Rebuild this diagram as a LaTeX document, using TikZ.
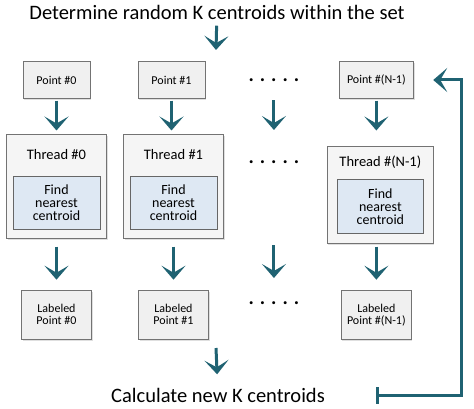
\documentclass[tikz,border=0pt]{standalone}
\usepackage{fontspec}
\setmainfont{Carlito}
\usepackage{tikz}
\usetikzlibrary{arrows.meta,positioning,calc,shadows}
\definecolor{flowteal}{RGB}{31,98,114}
\definecolor{findblue}{RGB}{222,232,243}
\tikzset{
  pointbox/.style={
    draw=black!55,
    line width=1pt,
    fill=black!6,
    drop shadow={opacity=0.25,shadow xshift=1pt,shadow yshift=-1.5pt},
    align=center,
    minimum height=36pt,
    minimum width=67pt,
    inner xsep=8pt,
    font=\fontsize{12}{12}\selectfont
  },
  labelbox/.style={
    pointbox,
    minimum height=49pt,
    minimum width=70pt,
    inner xsep=4pt,
    font=\fontsize{12}{12}\selectfont
  },
  threadbox/.style={
    draw=black!55,
    line width=1.2pt,
    fill=black!4,
    drop shadow={opacity=0.25,shadow xshift=1pt,shadow yshift=-1.5pt},
    minimum width=100pt,
    minimum height=104pt
  },
  threadname/.style={font=\fontsize{14.5}{15}\selectfont, inner sep=0pt},
  findbox/.style={
    draw=black!60,
    line width=1pt,
    fill=findblue,
    align=center,
    minimum width=87pt,
    minimum height=53pt,
    inner sep=2pt,
    font=\fontsize{14}{13}\selectfont
  },
  dotrow/.style={inner sep=0pt, font=\fontsize{20}{20}\selectfont\bfseries},
  headline/.style={font=\fontsize{20.5}{22}\selectfont},
  flow/.style={-{Stealth[length=14pt,width=24pt,inset=7pt]}, line width=3pt, draw=flowteal},
  loopline/.style={{Bar[width=17pt]}-{Stealth[length=14pt,width=24pt,inset=7pt]}, line width=3pt, draw=flowteal}
}

\begin{document}
\begin{tikzpicture}[x=1pt, y=1pt]
\useasboundingbox (0,0) rectangle (474,408);
\node[headline] (title) at (217,396) {Determine random K centroids within the set};
\coordinate (topend) at (216,358);

% points
\node[pointbox] (p0) at (56.5,328) {Point \#0};
\node[pointbox, right=47pt of p0] (p1) {Point \#1};
\node[pointbox, right=133pt of p1] (pN) {Point \#(N-1)};
\node[dotrow] (pd) at ($(p1)!0.5!(pN)$) {. . . . .};

% threads
\node[threadbox, below=35pt of p0] (t0) {};
\node[findbox, above=9pt of t0.south] (f0) {Find\\nearest\\centroid};
\node[threadname] (t0lbl) at ($(t0.north)!0.5!(f0.north)$) {Thread \#0};
\node[threadbox, below=35pt of p1, xshift=2pt] (t1) {};
\node[findbox, above=9pt of t1.south] (f1) {Find\\nearest\\centroid};
\node[threadname] (t1lbl) at ($(t1.north)!0.5!(f1.north)$) {Thread \#1};
\node[threadbox, minimum width=106pt, minimum height=97pt, below=47pt of pN, xshift=4pt] (tN) {};
\node[findbox, minimum width=86pt, minimum height=54pt, above=10pt of tN.south] (fN) {Find\\nearest\\centroid};
\node[threadname] (tNlbl) at ($(tN.north)!0.5!(fN.north)$) {Thread \#(N-1)};
\node[dotrow] (td) at ($(pd)+(0,-82)$) {. . . . .};

% labeled points
\node[labelbox, below=51pt of t0] (l0) {Labeled\\Point \#0};
\node[labelbox, below=51pt of t1] (l1) {Labeled\\Point \#1};
\node[labelbox, below=46pt of tN, xshift=-4pt] (lN) {Labeled\\Point \#(N-1)};
\node[dotrow] (ld) at ($(pd)+(0,-223)$) {. . . . .};

\node[headline] (calc) at (218,13) {Calculate new K centroids};
\coordinate (botstart) at (216,60);
\coordinate (fbstart) at (376,13);
\coordinate (fbturn) at (461,328);

\draw[flow, shorten <=3pt] (title) -- (topend);
\draw[flow, shorten <=2pt, shorten >=3pt] (p0) -- (t0);
\draw[flow, shorten <=2pt, shorten >=3pt] (p1) -- (p1 |- t1.north);
\draw[flow, shorten <=20pt, shorten >=32pt] (pd.center) -- (td.center);
\draw[flow, shorten <=2pt, shorten >=15pt] (pN) -- (pN |- tN.north);
\draw[flow, shorten <=8pt, shorten >=10pt] (t0) -- (l0);
\draw[flow, shorten <=8pt, shorten >=10pt] (l1 |- t1.south) -- (l1);
\draw[flow, shorten <=83pt, shorten >=25pt] (td.center) -- (ld.center);
\draw[flow, shorten <=3pt, shorten >=10pt] (lN |- tN.south) -- (lN);
\draw[flow, shorten >=10pt] (botstart) -- (calc);
\draw[loopline, shorten >=19pt] (fbstart) -| (fbturn) -- (pN);
\end{tikzpicture}
\end{document}
